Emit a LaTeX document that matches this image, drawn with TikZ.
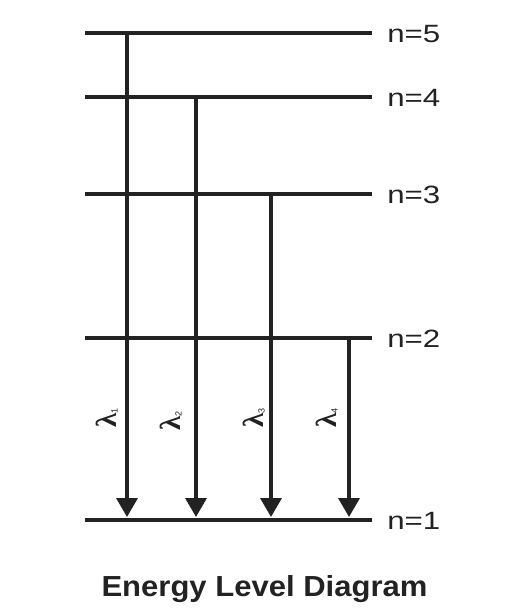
\documentclass[tikz,border=0pt]{standalone}
\usepackage{fontspec}
\setmainfont{Liberation Sans}
\newfontfamily\greekfont{Liberation Serif}
\usetikzlibrary{arrows.meta}
\definecolor{ink}{HTML}{222222}
\newcommand{\lamsub}[1]{{\greekfont\bfseries\fontsize{29}{29}\selectfont λ}\raisebox{-1pt}{\fontsize{9}{9}\selectfont #1}}
\begin{document}
\begin{tikzpicture}[x=1pt,y=-1pt,
  level/.style={draw=ink,line width=3.6pt},
  trans/.style={draw=ink,line width=3.6pt,-{Triangle[width=21pt,length=19pt]}},
  lvllabel/.style={anchor=base west,inner sep=0pt,text=ink,font=\fontsize{25}{25}\selectfont,xscale=1.25},
  lam/.style={inner sep=0pt,text=ink,rotate=90},
  title/.style={anchor=base,inner sep=0pt,text=ink,font=\fontsize{29}{29}\selectfont\bfseries,xscale=1.07}]
\useasboundingbox (0,0) rectangle (508,614);
% levels
\foreach \n/\y in {5/33,4/97,3/194,2/338,1/520}{
  \coordinate (L\n) at (85,\y);
  \coordinate (R\n) at (372,\y);
  \draw[level] (L\n) -- (R\n);
  \node[lvllabel] (lab\n) at (387,\y+9) {n=\n};
}
% transition start and end points
\coordinate (s1) at (127,33);  \coordinate (e1) at (127,517);
\coordinate (s2) at (196,97);  \coordinate (e2) at (196,517);
\coordinate (s3) at (271,194); \coordinate (e3) at (271,517);
\coordinate (s4) at (349,338); \coordinate (e4) at (349,517);
\foreach \i in {1,2,3,4}{
  \draw[trans] (s\i) -- (e\i);
}
\node[lam] (lam1) at (107,418) {\lamsub{1}};
\node[lam] (lam2) at (171,421) {\lamsub{2}};
\node[lam] (lam3) at (254,418) {\lamsub{3}};
\node[lam] (lam4) at (327,418) {\lamsub{4}};
\node[title] (ttl) at (264.5,596) {Energy Level Diagram};
\end{tikzpicture}
\end{document}
